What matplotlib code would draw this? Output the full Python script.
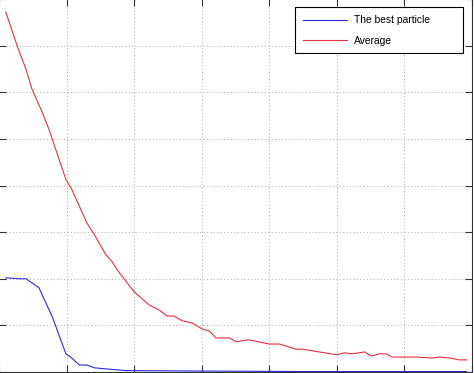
import matplotlib.pyplot as plt
from matplotlib.patches import Rectangle

# average fitness of the swarm
avg_x = [1, 2.7, 4.0, 4.9, 6.4, 7.4, 8.9, 9.9, 10.8, 13.0, 14.1, 15.8, 16.7, 17.8, 18.3,
         20, 22.2, 23.7, 24.9, 25.9, 27.1, 28.6, 30.1, 31.1, 32.1, 34.1, 35.1, 37,
         40, 41.5, 44, 44.9, 47.4, 49.9, 51.1, 52.3, 54.1, 55.1, 56.3, 57.3, 58.2,
         60.3, 61.8, 64.1, 65.2, 66.7, 68.1, 69.2]
avg_y = [7.72, 6.99, 6.49, 6.06, 5.57, 5.2, 4.56, 4.13, 3.91, 3.2, 2.95, 2.52, 2.37, 2.13,
         2.04, 1.72, 1.44, 1.33, 1.2, 1.2, 1.1, 1.05, 0.92, 0.88, 0.73, 0.73, 0.65,
         0.69, 0.6, 0.6, 0.49, 0.49, 0.43, 0.37, 0.41, 0.39, 0.43, 0.34, 0.39, 0.39,
         0.32, 0.32, 0.32, 0.3, 0.32, 0.3, 0.26, 0.26]

# best particle
best_x = [1, 3, 4, 5.9, 7.9, 9.9, 10.6, 11.9, 13, 14.1, 16.3, 18.8, 30, 45, 60, 69.2]
best_y = [2.02, 2.0, 2.0, 1.81, 1.18, 0.39, 0.32, 0.15, 0.15, 0.09, 0.06, 0.03, 0.02,
          0.01, 0.01, 0.01]

W, H = 474, 373
fig = plt.figure(figsize=(W / 100, H / 100), dpi=100)
ax = fig.add_axes([-1 / W, 1 / H, 473 / W, 373 / H])

ax.plot(best_x, best_y, color='#2a2ad8', lw=0.8, label='The best particle')
ax.plot(avg_x, avg_y, color='#e8303a', lw=0.8, label='Average')

ax.set_xlim(0, 70)
ax.set_ylim(0, 8)
ax.set_xticks(range(0, 71, 10))
ax.set_yticks(range(0, 9))
ax.set_xticklabels([])
ax.set_yticklabels([])
ax.tick_params(direction='in', length=5, width=0.8, color='#333333',
               top=True, right=True)
ax.grid(True, linestyle=(0, (1, 2.5)), color='#aaaaaa', lw=0.7)
for s in ax.spines.values():
    s.set_color('#333333')
    s.set_linewidth(0.8)
ax.spines['left'].set_visible(False)
ax.spines['top'].set_visible(False)

# legend box drawn by hand (matlab style, wide right padding)
box = Rectangle((295 / W, 1 - 53 / H), 168 / W, 46 / H, transform=fig.transFigure,
                facecolor='white', edgecolor='black', lw=0.8, zorder=4, clip_on=False)
ax.add_patch(box)
leg = ax.legend(loc='upper left', bbox_to_anchor=(295 / W, 1 - 7 / H),
                bbox_transform=fig.transFigure,
                prop={'family': 'Liberation Sans', 'size': 7.4},
                frameon=False, handlelength=4.3, handletextpad=0.6,
                labelspacing=1.0, borderpad=0.8, borderaxespad=0)
leg.set_zorder(5)

plt.savefig('out.png', dpi=100)
